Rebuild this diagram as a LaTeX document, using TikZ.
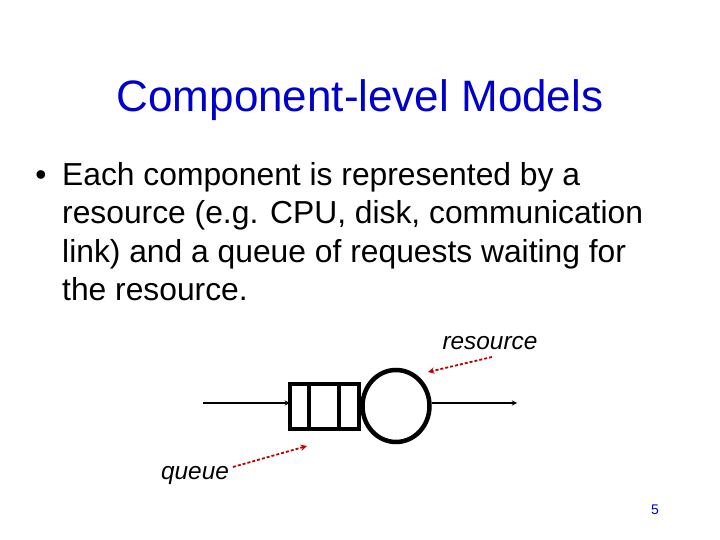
\documentclass[tikz,border=0pt]{standalone}
\usepackage{fontspec}
\setmainfont{Liberation Sans}
\usetikzlibrary{shapes.geometric}
\begin{document}
\begin{tikzpicture}[x=1pt,y=-1pt,
  lbl/.style={inner sep=0pt,font=\fontsize{24.4}{28}\selectfont\itshape},
  body/.style={inner sep=0pt,anchor=base west,font=\fontsize{31.8}{36}\selectfont},
  redarr/.style={draw={rgb,255:red,192;green,0;blue,0},densely dashed,line width=1.8pt,-stealth},
  flow/.style={line width=1.3pt,-stealth}]
\useasboundingbox (0,0) rectangle (720,540);
\node[inner sep=0pt,font=\fontsize{44}{48}\selectfont,text={rgb,255:red,0;green,0;blue,204}] (title) at (360,100) {Component-level Models};
\node[body,anchor=base] (bul) at (41,186) {•};
\node[body] (l1) at (62,186) {Each component is represented by a};
\node[body] (l2) at (62,224) {resource (e.g. CPU, disk, communication};
\node[body] (l3) at (62,262) {link) and a queue of requests waiting for};
\node[body] (l4) at (62,300) {the resource.};
\draw[line width=4.5pt] (290,384) rectangle (359,429);
\node[inner sep=0pt,minimum width=69pt,minimum height=45pt] (q) at (324.5,406.5) {};
\draw[line width=4.5pt] (309,384) -- (309,429) (339,384) -- (339,429);
\node[draw,line width=4.5pt,ellipse,inner sep=0pt,minimum width=67pt,minimum height=72pt] (c) at (396,406) {};
\coordinate (in) at (203,403);
\coordinate (out) at (517,403);
\draw[flow] (in) -- (q.west |- in);
\draw[flow] (c.east |- out) -- (out);
\node[lbl] (res) at (490,343) {resource};
\node[lbl] (que) at (195,475) {queue};
\coordinate (rs) at (492,357);
\coordinate (re) at (428,372);
\coordinate (qs) at (233,467);
\coordinate (qe) at (307,446);
\draw[redarr] (rs) -- (re);
\draw[redarr] (qs) -- (qe);
\node[inner sep=0pt,font=\fontsize{14}{16}\selectfont,text={rgb,255:red,0;green,0;blue,204}] (pg) at (655,510) {5};
\end{tikzpicture}
\end{document}
